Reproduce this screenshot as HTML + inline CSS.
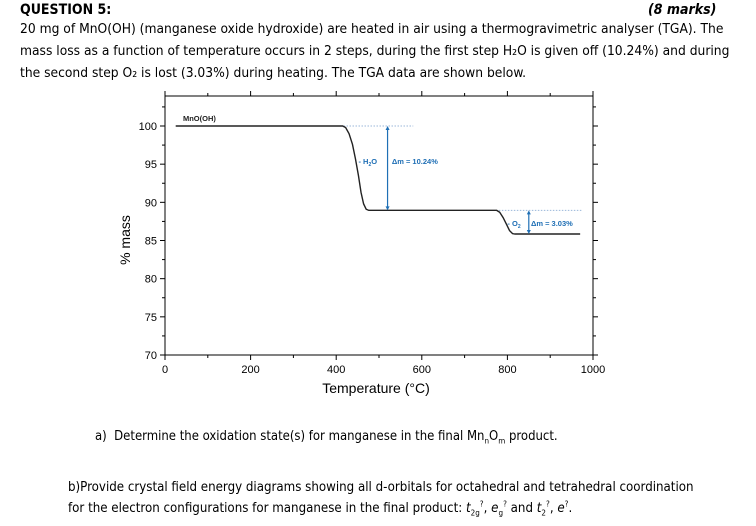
<!DOCTYPE html>
<html><head><meta charset="utf-8"><style>
body{margin:0;width:756px;height:526px;background:#fff;font-family:"DejaVu Sans Condensed","Liberation Sans",sans-serif;color:#000;overflow:hidden;position:relative}
.t{position:absolute;font-size:13.7px;white-space:nowrap;line-height:18px}
.t sub,.t sup{line-height:0;font-size:8px}
</style></head><body>
<div class="t" style="left:20px;top:1px;font-weight:bold;font-size:14px">QUESTION 5:</div>
<div class="t" style="left:648px;top:1px;font-weight:bold;font-style:italic;font-size:14px">(8 marks)</div>
<div class="t" style="left:20px;top:20px">20 mg of MnO(OH) (manganese oxide hydroxide) are heated in air using a thermogravimetric analyser (TGA). The</div>
<div class="t" style="left:20px;top:42px">mass loss as a function of temperature occurs in 2 steps, during the first step H₂O is given off (10.24%) and during</div>
<div class="t" style="left:20px;top:64px">the second step O₂ is lost (3.03%) during heating. The TGA data are shown below.</div>
<svg id="chart" width="756" height="526" style="position:absolute;left:0;top:0" font-family="Liberation Sans, sans-serif"></svg>
<div class="t" style="left:95px;top:428px;font-size:13px">a)&nbsp; Determine the oxidation state(s) for manganese in the final Mn<sub>n</sub>O<sub>m</sub> product.</div>
<div class="t" style="left:68px;top:479px;font-size:13.2px">b)Provide crystal field energy diagrams showing all d-orbitals for octahedral and tetrahedral coordination</div>
<div class="t" style="left:68px;top:500px;font-size:13.2px">for the electron configurations for manganese in the final product: <i>t</i><sub>2g</sub><sup>?</sup>, <i>e</i><sub>g</sub><sup>?</sup> and <i>t</i><sub>2</sub><sup>?</sup>, <i>e</i><sup>?</sup>.</div>
<script>
const temps=[25,300,415,422,430,438,445,452,458,464,470,476,600,775,782,790,798,805,812,818,900,970];
const mass=[100,100,100,99.8,99,97.6,95.7,93.5,91.3,89.8,89.1,88.95,88.95,88.95,88.7,88,87.1,86.3,85.9,85.85,85.85,85.85];
const xTicks=[0,200,400,600,800,1000];
const yTicks=[70,75,80,85,90,95,100];
const X0=165,X1=593,Y0=96,Y1=355;
const xs=v=>X0+(v/1000)*(X1-X0);
const ys=v=>355+(70-v)*(355-126)/30;
const svg=document.getElementById('chart');
const NS='http://www.w3.org/2000/svg';
function mk(t,a,p){const e=document.createElementNS(NS,t);for(const k in a)e.setAttribute(k,a[k]);(p||svg).appendChild(e);return e;}
const frame=mk('rect',{x:X0,y:Y0,width:X1-X0,height:Y1-Y0,fill:'none',stroke:'#000','stroke-width':1});


for(let v=0;v<=1000;v+=100){const x=xs(v),L=v%200===0?5:3;
 mk('line',{x1:x,x2:x,y1:Y1,y2:Y1+L,stroke:'#000'});mk('line',{x1:x,x2:x,y1:Y0,y2:Y0-L,stroke:'#000'});}
xTicks.forEach(v=>{const t=mk('text',{x:xs(v),y:373,'font-size':11,'text-anchor':'middle'});t.textContent=v;
 
 });
for(let v=70;v<=102.5;v+=2.5){const y=ys(v),L=v%5===0?5:3;
 mk('line',{x1:X0,x2:X0-L,y1:y,y2:y,stroke:'#000'});mk('line',{x1:X1,x2:X1+L,y1:y,y2:y,stroke:'#000'});}
yTicks.forEach(v=>{const t=mk('text',{x:157,y:ys(v)+4,'font-size':11,'text-anchor':'end'});t.textContent=v;
 
 });
const xt=mk('text',{x:376,y:393,'font-size':14,'text-anchor':'middle'});xt.textContent='Temperature (°C)';


const yt=mk('text',{x:130,y:240,'font-size':14,'text-anchor':'middle',transform:'rotate(-90 130 240)'});yt.textContent='% mass';


mk('line',{x1:xs(375),x2:xs(580),y1:ys(100),y2:ys(100),stroke:'#9bb7d9','stroke-dasharray':'1.5,1.5'});
mk('line',{x1:xs(780),x2:xs(975),y1:ys(88.95),y2:ys(88.95),stroke:'#9bb7d9','stroke-dasharray':'1.5,1.5'});
const pl=mk('polyline',{points:temps.map((t,i)=>xs(t)+','+ys(mass[i])).join(' '),fill:'none',stroke:'#222','stroke-width':1.4});


const blue='#1f6fb5';
function arrow(x,ya,yb,name){const g=mk('g',{});
 mk('line',{x1:x,x2:x,y1:ys(ya)+2,y2:ys(yb)-2,stroke:blue,'stroke-width':1.2},g);
 mk('polygon',{points:`${x-2},${ys(ya)+4} ${x+2},${ys(ya)+4} ${x},${ys(ya)}`,fill:blue},g);
 mk('polygon',{points:`${x-2},${ys(yb)-4} ${x+2},${ys(yb)-4} ${x},${ys(yb)}`,fill:blue},g);}
arrow(xs(520),100,88.95,'h2o-arrow');arrow(xs(850),88.95,85.85,'o2-arrow');
function lab(x,y,s,n,c){const t=mk('text',{x:x,y:y,'font-size':7.5,'font-weight':'bold',fill:c||blue});t.innerHTML=s;
 }
lab(xs(452),164,'- H<tspan font-size="5" dy="2">2</tspan><tspan dy="-2">O</tspan>','h2o-label');
lab(xs(530),164,'Δm = 10.24%','dm1-label');
lab(xs(800),226,'- O<tspan font-size="5" dy="2">2</tspan>','o2-label');
lab(xs(855),226,'Δm = 3.03%','dm2-label');
lab(xs(42),121,'MnO(OH)','compound-label','#222');
</script>
</body></html>
